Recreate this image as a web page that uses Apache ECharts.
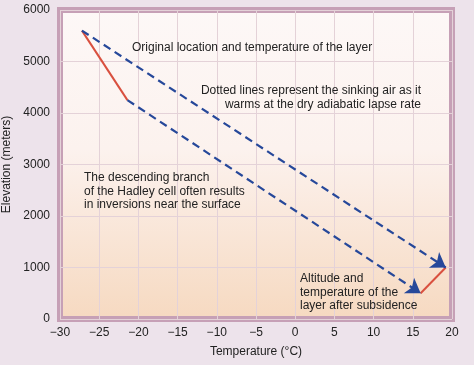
<!DOCTYPE html>
<html>
<head>
<meta charset="utf-8">
<script src="https://cdn.jsdelivr.net/npm/echarts@6/dist/echarts.min.js"></script>
<style>
html,body{margin:0;padding:0;background:#ede3eb;}
#chart{width:474px;height:365px;}
</style>
</head>
<body>
<div id="chart"></div>
<script>
// Axis ranges / ticks
const tempMin = -30, tempMax = 20, tempStep = 5;
const elevMin = 0, elevMax = 6000, elevStep = 1000;

// Red solid layer segments [temperature °C, elevation m]
const layerOriginal = [[-27.2, 5600], [-21.4, 4250]];
const layerAfter = [[16.0, 500], [19.2, 1000]];

// Dashed descent paths (start -> end)
const descentTop = [[-27.2, 5600], [19.2, 1000]];
const descentBottom = [[-21.4, 4250], [16.0, 500]];

// Annotation texts
const noteOriginal = ['Original location and temperature of the layer'];
const noteDotted = ['Dotted lines represent the sinking air as it', 'warms at the dry adiabatic lapse rate'];
const noteHadley = ['The descending branch', 'of the Hadley cell often results', 'in inversions near the surface'];
const noteAfter = ['Altitude and', 'temperature of the', 'layer after subsidence'];

const fmt = v => (v < 0 ? '\u2212' + Math.abs(v) : String(v));
const FONT = 'Liberation Sans, Arial, Helvetica, sans-serif';
const chart = echarts.init(document.getElementById('chart'), null, {renderer: 'canvas'});

function note(lines, x, y, align) {
  return {
    type: 'text', x: x, y: y, z: 10,
    style: {
      text: lines.join('\n'), fill: '#222222', font: '12px ' + FONT,
      lineHeight: 13.5, align: align || 'left', verticalAlign: 'top'
    }
  };
}

chart.setOption({
  backgroundColor: '#ede3eb',
  animation: false,
  grid: {
    left: 60, right: 22, top: 10, bottom: 46,
    outerBoundsMode: 'none', containLabel: false,
    show: true,
    borderColor: '#c6a0b6', borderWidth: 6,
    backgroundColor: {
      type: 'linear', x: 0, y: 0, x2: 0, y2: 1,
      colorStops: [
        {offset: 0, color: '#fdf8f7'},
        {offset: 0.45, color: '#fcf2ee'},
        {offset: 1, color: '#f6d9c0'}
      ]
    }
  },
  xAxis: {
    type: 'value', min: tempMin, max: tempMax, interval: tempStep,
    name: 'Temperature (\u00B0C)', nameLocation: 'middle', nameGap: 27,
    nameTextStyle: {fontSize: 12, color: '#222222', fontFamily: FONT},
    axisLine: {show: false}, axisTick: {show: false},
    axisLabel: {formatter: fmt, fontSize: 12, color: '#222222', fontFamily: FONT, margin: 8},
    splitLine: {show: true, lineStyle: {color: '#e4d2d8', width: 1}}
  },
  yAxis: {
    type: 'value', min: elevMin, max: elevMax, interval: elevStep,
    name: 'Elevation (meters)', nameLocation: 'middle', nameGap: 44, nameRotate: 90,
    nameTextStyle: {fontSize: 12, color: '#222222', fontFamily: FONT},
    axisLine: {show: false}, axisTick: {show: false},
    axisLabel: {formatter: v => String(v), fontSize: 12, color: '#222222', fontFamily: FONT, margin: 10},
    splitLine: {show: true, lineStyle: {color: '#e4d2d8', width: 1}}
  },
  series: [
    {
      type: 'line', data: layerOriginal, symbol: 'none',
      lineStyle: {color: '#d9503f', width: 2}, z: 3
    },
    {
      type: 'line', data: layerAfter, symbol: 'none',
      lineStyle: {color: '#d9503f', width: 2}, z: 3,
      markLine: {
        silent: true, symbol: ['none', 'arrow'], symbolSize: 14,
        label: {show: false},
        lineStyle: {color: '#26489a', width: 2.2, type: [8, 5]},
        itemStyle: {color: '#2464c4'},
        data: [
          [{coord: descentTop[0]}, {coord: descentTop[1]}],
          [{coord: descentBottom[0]}, {coord: descentBottom[1]}]
        ]
      }
    }
  ],
  graphic: [
    note(noteOriginal, 132, 41),
    note(noteDotted, 421, 84, 'right'),
    note(noteHadley, 84, 171),
    note(noteAfter, 300, 272)
  ]
});
</script>
</body>
</html>
